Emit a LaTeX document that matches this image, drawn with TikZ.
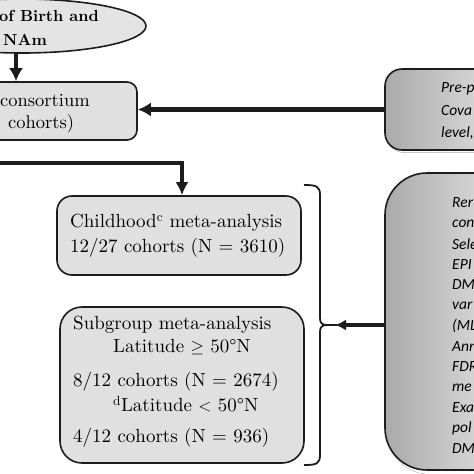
\documentclass[tikz,border=0pt]{standalone}
\usepackage{fontspec}
\setmainfont{lmroman10-regular.otf}[BoldFont=lmroman10-bold.otf, ItalicFont=lmroman10-italic.otf]
\newfontfamily\carl{Carlito}
\usetikzlibrary{arrows.meta,shapes.geometric}
\definecolor{boxfill}{HTML}{E0E0E0}
\definecolor{ellfill}{HTML}{E4E4E4}
\definecolor{gL}{HTML}{AAAAAA}
\definecolor{gR}{HTML}{FAFAFA}
\definecolor{edge}{HTML}{1C1C1C}
\definecolor{shade}{HTML}{3A3A3A}
\tikzset{
  graybox/.style={draw=edge, line width=1.6pt, fill=boxfill, rectangle, inner sep=0pt},
  gradbox/.style={draw=edge, line width=1.6pt, left color=gL, right color=gR, rectangle, inner sep=0pt},
  fatarrow/.style={draw=edge, line width=4.5pt, -{Latex[length=13pt,width=14pt]}},
  midarrow/.style={draw=edge, line width=3.5pt, -{Latex[length=13pt,width=13pt]}},
  sertext/.style={inner sep=0pt, anchor=west, font=\fontsize{19}{23}\selectfont},
  boldtext/.style={inner sep=0pt, anchor=west, font=\fontsize{16}{20}\selectfont\bfseries},
  sanstext/.style={inner sep=0pt, anchor=west, font=\carl\itshape\fontsize{15.5}{18}\selectfont},
}
\begin{document}
\begin{tikzpicture}[x=1pt,y=-1pt]
\useasboundingbox (0,0) rectangle (474,474);
\clip (0,0) rectangle (474,474);
\fill[white] (0,0) rectangle (474,474);

% top ellipse
\node[ellipse, draw=edge, line width=1.6pt, fill=ellfill, minimum width=248pt, minimum height=54pt, inner sep=0pt] (birth) at (22,26) {};
\node[boldtext] (bt1) at (-1,16) {of Birth and};
\node[boldtext] (bt2) at (3,40) {NAm};

% consortium box
\node[graybox, rounded corners=10pt, minimum width=157pt, minimum height=58pt] (cons) at (58.5,111) {};
\node[sertext, font=\fontsize{18.5}{22}\selectfont] (ct1) at (0,101) {consortium};
\node[sertext, font=\fontsize{18.5}{22}\selectfont] (ct2) at (8,124) {cohorts)};

% arrow ellipse -> consortium
\draw[fatarrow] ([xshift=-6pt]birth.south) -- ([xshift=-6pt]birth.south |- cons.north);

% pre-processing box (with shadow)
\fill[shade, rounded corners=17pt] (387,71.5) rectangle (560,152.5);
\node[gradbox, rounded corners=17pt, minimum width=175pt, minimum height=81pt] (prep) at (472.5,109.5) {};
\node[sanstext] (p1) at (441,89) {Pre-p};
\node[sanstext] (p2) at (441,111) {Cova};
\node[sanstext] (p3) at (441,133) {level,};

% arrow prep -> consortium
\draw[fatarrow] (prep.west) -- (prep.west -| cons.east);

% childhood box
\node[graybox, rounded corners=15pt, minimum width=244pt, minimum height=79pt] (child) at (179,235.5) {};
\node[sertext] (c1) at (70,223) {Childhood\textsuperscript{c} meta-analysis};
\node[sertext] (c2) at (70,248) {12/27 cohorts (N = 3610)};

% line from left into childhood box
\coordinate (lstart) at (-5,163);
\draw[midarrow] (lstart) -| ([xshift=3pt]child.north);

% subgroup box
\node[graybox, rounded corners=22pt, minimum width=244pt, minimum height=156pt] (sub) at (182,385) {};
\node[sertext] (s1) at (73,325) {Subgroup meta-analysis};
\node[sertext] (s2) at (113,347) {Latitude $\geq$ 50°N};
\node[sertext] (s3) at (73,382) {8/12 cohorts (N = 2674)};
\node[sertext] (s4) at (113,404) {\textsuperscript{d}Latitude $<$ 50°N};
\node[sertext] (s5) at (73,438) {4/12 cohorts (N = 936)};

% brace
\coordinate (brace) at (327,325);
\draw[edge, line width=1.8pt, line join=round]
  (304,185) .. controls (316,185) and (320,186) .. (320,195) -- (320,318)
  .. controls (320,323) and (322,325) .. (brace)
  .. controls (322,325) and (320,327) .. (320,332) -- (320,455)
  .. controls (320,464) and (316,465) .. (304,465);

% big right box (with shadow)
\fill[shade, rounded corners=42pt] (387,176) rectangle (560,474);
\node[gradbox, rounded corners=42pt, minimum width=175pt, minimum height=297pt] (big) at (472.5,321.5) {};
\foreach \t [count=\i from 0] in {{Rer},{con},{Sele},{EPI},{DM},{var},{(ML},{Ann},{FDR},{me},{Exa},{pol},{DM}}
  \node[sanstext] (b\i) at (452,{203+20.5*\i}) {\t};

% arrow big box -> brace
\draw[edge, line width=1.2pt] (brace) -- ++(10,0);
\draw[fatarrow, -{Latex[length=11pt,width=11pt]}] (big.west |- brace) -- ([xshift=8pt]brace);
\end{tikzpicture}
\end{document}
